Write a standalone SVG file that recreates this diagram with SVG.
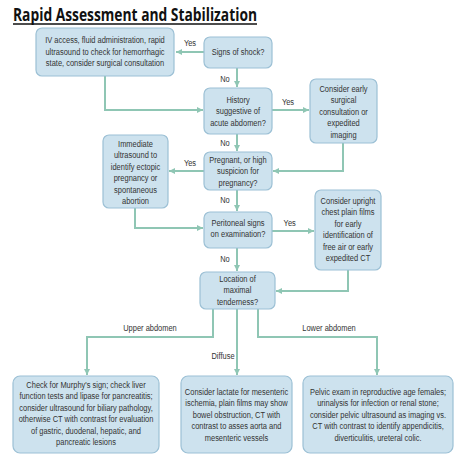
<svg xmlns="http://www.w3.org/2000/svg" width="474" height="475" viewBox="0 0 474 475">
<defs>
<style>
.box{fill:#cde2ee;stroke:#9cc0d5;stroke-width:1.2}
.t{font-family:"Liberation Sans",Arial,sans-serif;font-size:9px;fill:#333;text-anchor:middle}
.c{fill:none;stroke:#8fc6b4;stroke-width:2}
</style>
<marker id="ah" markerUnits="userSpaceOnUse" markerWidth="7" markerHeight="7" refX="6" refY="3.5" orient="auto">
<path d="M0,0.5 L6,3.5 L0,6.5 z" fill="#8fc6b4"/>
</marker>
</defs>
<rect width="474" height="475" fill="#fff"/>
<g id="title">
<text x="13" y="21" font-family="'Open Sans','Liberation Sans',sans-serif" font-weight="bold" font-size="17" textLength="244" lengthAdjust="spacingAndGlyphs" fill="#111">Rapid Assessment and Stabilization</text>
<line x1="13" y1="24" x2="257" y2="24" stroke="#111" stroke-width="1.6"/>
</g>
<g id="connectors">
<path class="c" marker-end="url(#ah)" d="M204,52 H176"/>
<path class="c" marker-end="url(#ah)" d="M237,68 V87"/>
<path class="c" marker-end="url(#ah)" d="M105,76 V110 H203"/>
<path class="c" marker-end="url(#ah)" d="M272,110 H309"/>
<path class="c" marker-end="url(#ah)" d="M237,134 V151"/>
<path class="c" marker-end="url(#ah)" d="M343,143 V171 H273"/>
<path class="c" marker-end="url(#ah)" d="M204,171 H169"/>
<path class="c" marker-end="url(#ah)" d="M237,190 V211"/>
<path class="c" marker-end="url(#ah)" d="M135,208 V228 H203"/>
<path class="c" marker-end="url(#ah)" d="M272,231 H314"/>
<path class="c" marker-end="url(#ah)" d="M237,248 V271"/>
<path class="c" marker-end="url(#ah)" d="M348,270 V291 H276"/>
<path class="c" marker-end="url(#ah)" d="M213,309 V337 H87 V375"/>
<path class="c" marker-end="url(#ah)" d="M237,309 V375"/>
<path class="c" marker-end="url(#ah)" d="M258,309 V337 H377 V375"/>
<g transform="translate(190,0) scale(0.83,1)"><text class="t" x="0" y="46">Yes</text><text class="t" x="0" y="166">Yes</text></g>
<g transform="translate(225,0) scale(0.83,1)"><text class="t" x="0" y="82">No</text><text class="t" x="0" y="146">No</text><text class="t" x="0" y="203">No</text><text class="t" x="0" y="262">No</text></g>
<g transform="translate(288,0) scale(0.83,1)"><text class="t" x="0" y="105">Yes</text><text class="t" x="2" y="226">Yes</text></g>
<g transform="translate(150,0) scale(0.83,1)"><text class="t" x="0" y="331">Upper abdomen</text></g>
<g transform="translate(223,0) scale(0.83,1)"><text class="t" x="0" y="359">Diffuse</text></g>
<g transform="translate(329,0) scale(0.83,1)"><text class="t" x="0" y="331">Lower abdomen</text></g>
</g>
<g id="iv">
<rect class="box" x="36" y="28" width="138" height="48" rx="6"/>
<g transform="translate(105,0) scale(0.83,1)">
<text class="t" x="0" y="43.5">IV access, fluid administration, rapid</text>
<text class="t" x="0" y="55">ultrasound to check for hemorrhagic</text>
<text class="t" x="0" y="66.5">state, consider surgical consultation</text>
</g>
</g>
<g id="shock">
<rect class="box" x="204" y="37" width="68" height="31" rx="6"/>
<g transform="translate(238,0) scale(0.83,1)"><text class="t" x="0" y="55.5">Signs of shock?</text></g>
</g>
<g id="history">
<rect class="box" x="204" y="88" width="68" height="46" rx="6"/>
<g transform="translate(238,0) scale(0.83,1)">
<text class="t" x="0" y="103">History</text>
<text class="t" x="0" y="114.5">suggestive of</text>
<text class="t" x="0" y="126">acute abdomen?</text>
</g>
</g>
<g id="early">
<rect class="box" x="310" y="79" width="67" height="64" rx="6"/>
<g transform="translate(343.5,0) scale(0.83,1)">
<text class="t" x="0" y="92">Consider early</text>
<text class="t" x="0" y="103.5">surgical</text>
<text class="t" x="0" y="115">consultation or</text>
<text class="t" x="0" y="126.5">expedited</text>
<text class="t" x="0" y="138">imaging</text>
</g>
</g>
<g id="pregnant">
<rect class="box" x="204" y="152" width="68" height="38" rx="6"/>
<g transform="translate(238,0) scale(0.83,1)">
<text class="t" x="0" y="163">Pregnant, or high</text>
<text class="t" x="0" y="174.5">suspicion for</text>
<text class="t" x="0" y="186">pregnancy?</text>
</g>
</g>
<g id="immediate">
<rect class="box" x="103" y="135" width="65" height="73" rx="6"/>
<g transform="translate(135.5,0) scale(0.83,1)">
<text class="t" x="0" y="147">Immediate</text>
<text class="t" x="0" y="158.5">ultrasound to</text>
<text class="t" x="0" y="170">identify ectopic</text>
<text class="t" x="0" y="181.5">pregnancy or</text>
<text class="t" x="0" y="193">spontaneous</text>
<text class="t" x="0" y="204.5">abortion</text>
</g>
</g>
<g id="peritoneal">
<rect class="box" x="204" y="212" width="68" height="36" rx="6"/>
<g transform="translate(238,0) scale(0.83,1)">
<text class="t" x="0" y="226">Peritoneal signs</text>
<text class="t" x="0" y="237.5">on examination?</text>
</g>
</g>
<g id="upright">
<rect class="box" x="315" y="190" width="66" height="80" rx="6"/>
<g transform="translate(348,0) scale(0.83,1)">
<text class="t" x="0" y="204">Consider upright</text>
<text class="t" x="0" y="215.5">chest plain films</text>
<text class="t" x="0" y="227">for early</text>
<text class="t" x="0" y="238.5">identification of</text>
<text class="t" x="0" y="250">free air or early</text>
<text class="t" x="0" y="261.5">expedited CT</text>
</g>
</g>
<g id="location">
<rect class="box" x="200" y="272" width="75" height="37" rx="6"/>
<g transform="translate(237.5,0) scale(0.83,1)">
<text class="t" x="0" y="282">Location of</text>
<text class="t" x="0" y="293.5">maximal</text>
<text class="t" x="0" y="305">tenderness?</text>
</g>
</g>
<g id="upper">
<rect class="box" x="13" y="376" width="146" height="77" rx="7"/>
<g transform="translate(86,0) scale(0.83,1)">
<text class="t" x="0" y="388">Check for Murphy's sign; check liver</text>
<text class="t" x="0" y="399.5">function tests and lipase for pancreatitis;</text>
<text class="t" x="0" y="411">consider ultrasound for biliary pathology,</text>
<text class="t" x="0" y="422.5">otherwise CT with contrast for evaluation</text>
<text class="t" x="0" y="434">of gastric, duodenal, hepatic, and</text>
<text class="t" x="0" y="445.5">pancreatic lesions</text>
</g>
</g>
<g id="diffuse">
<rect class="box" x="181" y="376" width="111" height="77" rx="7"/>
<g transform="translate(236.5,0) scale(0.83,1)">
<text class="t" x="0" y="395">Consider lactate for mesenteric</text>
<text class="t" x="0" y="406.5">ischemia, plain films may show</text>
<text class="t" x="0" y="418">bowel obstruction, CT with</text>
<text class="t" x="0" y="429.5">contrast to asses aorta and</text>
<text class="t" x="0" y="441">mesenteric vessels</text>
</g>
</g>
<g id="lower">
<rect class="box" x="303" y="376" width="150" height="77" rx="7"/>
<g transform="translate(378,0) scale(0.83,1)">
<text class="t" x="0" y="395">Pelvic exam in reproductive age females;</text>
<text class="t" x="0" y="406.5">urinalysis for infection or renal stone;</text>
<text class="t" x="0" y="418">consider pelvic ultrasound as imaging vs.</text>
<text class="t" x="0" y="429.5">CT with contrast to identify appendicitis,</text>
<text class="t" x="0" y="441">diverticulitis, ureteral colic.</text>
</g>
</g>
</svg>
